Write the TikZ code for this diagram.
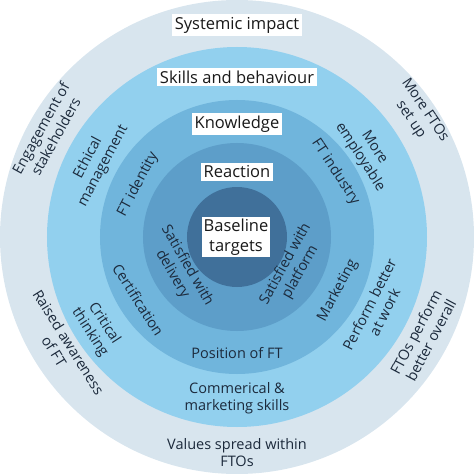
\documentclass[tikz,border=0pt]{standalone}
\usepackage{fontspec}
\setmainfont{Open Sans}
\definecolor{ringfive}{HTML}{D8E5EE}
\definecolor{ringfour}{HTML}{92D0EE}
\definecolor{ringthree}{HTML}{70B5DC}
\definecolor{ringtwo}{HTML}{5D9EC9}
\definecolor{ringone}{HTML}{40709A}
\definecolor{textblue}{HTML}{1C2A3C}
\tikzset{
  levelbox/.style={fill=white, inner sep=2.5pt, text=black!90,
    font=\fontsize{16.5}{20}\selectfont, align=center},
  ringtext/.style={align=center, text=textblue,
    font=\fontsize{14.5}{17}\selectfont},
}
\begin{document}
\begin{tikzpicture}[x=1pt,y=1pt]
\useasboundingbox (-237,-237) rectangle (237,237);
                        % Rings (outside in)
                        \fill[ringfive] (0,0) circle (237);
                        \fill[ringfour] (0,0) circle (190);
                        \fill[ringthree] (0,0) circle (137);
                        \fill[ringtwo] (0,0) circle (94);
                        \fill[ringone] (0,0) circle (50);
                        % Level names
                        \node[levelbox] (systemic) at (0,212) {Systemic impact};
                        \node[levelbox] (skills) at (0,160) {Skills and behaviour};
                        \node[levelbox] (knowledge) at (0,113) {Knowledge};
                        \node[levelbox] (reaction) at (0,65) {Reaction};
                        \node[levelbox, inner sep=2pt] (baseline) at (-1,0) {Baseline\\targets};
                        % Systemic impact ring
                        \node[ringtext, rotate=61] (engage) at (151:216) {Engagement of\\stakeholders};
                        \node[ringtext, rotate=-56] (moreftos) at (34:218) {More FTOs\\set up};
                        \node[ringtext, rotate=-58] (raised) at (212:207) {Raised awareness\\of FT};
                        \node[ringtext, rotate=62] (ftosbetter) at (-28:211) {FTOs perform\\better overall};
                        \node[ringtext] (values) at (0,-216) {Values spread within\\FTOs};
                        % Skills and behaviour ring
                        \node[ringtext, rotate=62] (ethical) at (152:160) {Ethical\\management};
                        \node[ringtext, rotate=-57] (employable) at (33:155) {More\\employable};
                        \node[ringtext, rotate=-57] (critical) at (213:167) {Critical\\thinking};
                        \node[ringtext, rotate=63] (perform) at (-27:157) {Perform better\\at work};
                        \node[ringtext] (commercial) at (0,-161) {Commerical \&\\marketing skills};
                        % Knowledge ring
                        \node[ringtext, rotate=62] (identity) at (152:112) {FT identity};
                        \node[ringtext, rotate=-56.5] (industry) at (33.5:118) {FT industry};
                        \node[ringtext, rotate=-57.5] (certif) at (212.5:117) {Certification};
                        \node[ringtext, rotate=62] (marketing) at (-28:114) {Marketing};
                        \node[ringtext] (position) at (0,-116) {Position of FT};
                        % Reaction ring
                        \node[ringtext, rotate=-60] (delivery) at (210:66) {Satisfied with\\delivery};
                        \node[ringtext, rotate=61] (platform) at (-29:64) {Satisfied with\\platform};
\end{tikzpicture}
\end{document}
